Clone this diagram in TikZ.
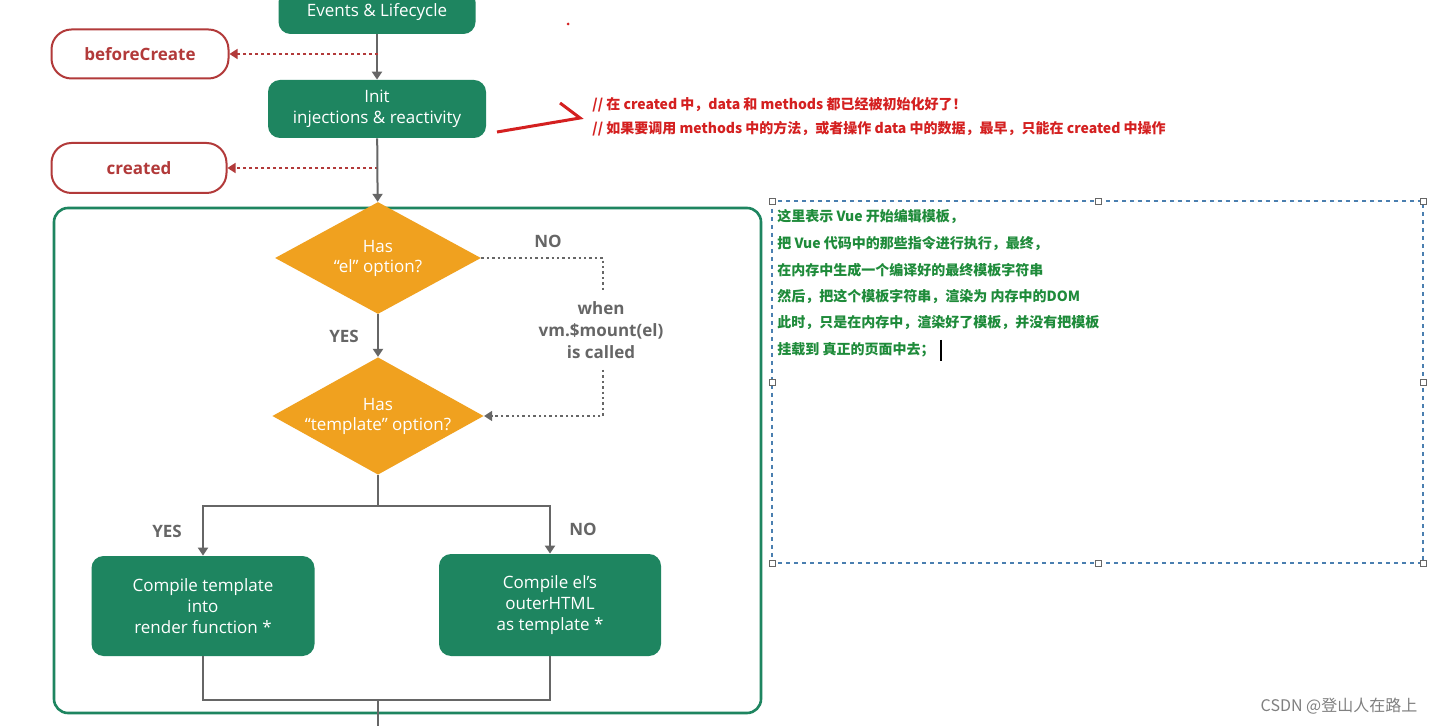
\documentclass[tikz,border=0pt]{standalone}
\usepackage{fontspec}
\setmainfont{Open Sans}
\newfontfamily\cjk{Noto Sans CJK SC}
\definecolor{vueGreen}{HTML}{1E8560}
\definecolor{vueOrange}{HTML}{F0A11F}
\definecolor{vueRed}{HTML}{B23A3A}
\definecolor{noteRed}{HTML}{D42020}
\definecolor{noteGreen}{HTML}{1E8B3A}
\definecolor{lineGray}{HTML}{666666}
\definecolor{selBlue}{HTML}{4A7FB0}
\usetikzlibrary{calc,positioning,arrows.meta,shapes.geometric}

\tikzset{
  lifestep/.style={fill=vueGreen, rounded corners=6pt, text=white, align=center, font=\fontsize{8.5}{10.5}\selectfont, inner sep=0pt},
  hook/.style={draw=vueRed, line width=1pt, rounded corners=10pt, text=vueRed, font=\fontsize{8.5}{10}\selectfont\bfseries, inner sep=0pt},
  choice/.style={diamond, fill=vueOrange, text=white, align=center, font=\fontsize{8.5}{10}\selectfont, inner sep=0pt, aspect=1.8},
  flow/.style={draw=lineGray, line width=1pt, -{Triangle[length=4pt,width=5pt]}},
  hookline/.style={draw=vueRed, line width=0.8pt, dash pattern=on 1.5pt off 1.5pt, -{Triangle[length=4pt,width=5pt]}},
  mountline/.style={draw=lineGray, line width=0.8pt, dash pattern=on 1.2pt off 1.5pt},
  tag/.style={text=lineGray, font=\fontsize{8.5}{10}\selectfont\bfseries},
  handle/.style={draw=lineGray, fill=white, minimum size=3pt, inner sep=0pt},
  note/.style={anchor=west, font=\cjk\fontsize{7}{8}\selectfont\bfseries, inner sep=0pt},
}

\begin{document}
\begin{tikzpicture}[x=0.5pt, y=-0.5pt]
  \useasboundingbox (0,0) rectangle (1450,726);
  \fill[white] (0,0) rectangle (1450,726);
  % hooks and init steps
  \node[lifestep, minimum width=98.5pt, minimum height=22pt] (events) at (377,12) {Events \& Lifecycle};
  \node[hook, minimum width=88.5pt, minimum height=24.5pt] (before) at (140,54) {beforeCreate};
  \node[lifestep, minimum width=109pt, minimum height=29pt] (init) at (377,109) {Init\\injections \& reactivity};
  \node[hook, minimum width=87.5pt, minimum height=25pt] (created) at (139,168) {created};
  \coordinate (beforeTap) at (378,54);
  \coordinate (createdTap) at (378,168);
  \draw[flow] (events) -- (init);
  \draw[hookline] (beforeTap) -- (before);
  \draw[hookline] (createdTap) -- (created);
  % compile block
  \draw[vueGreen, line width=1.3pt, rounded corners=7pt] (54,208) rectangle (761,713);
  \node[choice, minimum width=103pt, minimum height=56pt] (hasEl) at (378,258) {Has\\“el” option?};
  \node[choice, minimum width=104pt, minimum height=58pt] (hasTpl) at (378,416) {Has\\“template” option?};
  \draw[flow] (init) -- (hasEl);
  \draw[flow] (hasEl) -- (hasTpl);
  \node[tag] (yesEl) at (344,336) {YES};
  \node[tag] (noEl) at (548,241) {NO};
  \node[text=lineGray, align=center, font=\fontsize{8.5}{11}\selectfont\bfseries] (mount) at (601,330) {when\\vm.\$mount(el)\\is called};
  \coordinate (noCorner) at (603,258);
  \coordinate (mountTop) at (603,290);
  \coordinate (mountBot) at (603,370);
  \coordinate (backCorner) at (603,416);
  \draw[mountline] (hasEl.east) -- (noCorner) -- (mountTop);
  \draw[mountline, -{Triangle[length=4pt,width=5pt]}] (mountBot) -- (backCorner) -- (hasTpl.east);
  % the two ways to compile
  \node[lifestep, minimum width=111.5pt, minimum height=50pt] (compTpl) at (203,606) {Compile template\\into\\render function *};
  \node[lifestep, minimum width=111pt, minimum height=51pt] (compEl) at (550,605) {Compile el's\\outerHTML\\as template *};
  \coordinate (split) at (378,506);
  \coordinate (joinL) at (203,700);
  \coordinate (joinR) at (550,700);
  \coordinate (join) at (378,700);
  \coordinate (out) at (378,730);
  \draw[lineGray, line width=1pt] (hasTpl.south) -- (split);
  \draw[flow] (split) -| (compTpl);
  \draw[flow] (split) -| (compEl);
  \draw[lineGray, line width=1pt] (compTpl) -- (joinL) -- (joinR) -- (compEl);
  \draw[lineGray, line width=1pt] (join) -- (out);
  \node[tag] (yesTpl) at (167,531) {YES};
  \node[tag] (noTpl) at (583,529) {NO};
  % red note
  \node[note, text=noteRed] (noteA) at (592,105) {//\ 在 created 中，data 和 methods 都已经被初始化好了！};
  \node[note, text=noteRed] (noteB) at (592,129) {// 如果要调用 methods 中的方法，或者操作 data 中的数据，最早，只能在 created 中操作};
  \coordinate (tickA) at (560,103);
  \coordinate (tickB) at (580,118);
  \coordinate (tickC) at (497,132);
  \draw[noteRed, line width=1.5pt] (tickA) -- (tickB) -- (tickC);
  \fill[noteRed] (568,24) circle (1.5);
  % selected text box
  \draw[selBlue, line width=0.6pt, dash pattern=on 2pt off 2pt] (772,201) rectangle (1423,563);
  \foreach \hx/\hy in {772/201,1098/201,1423/201,772/382,1423/382,772/563,1098/563,1423/563}
    \node[handle] at (\hx,\hy) {};
  \foreach \ty/\txt in {217/这里表示 Vue 开始编辑模板，,244/把 Vue 代码中的那些指令进行执行，最终，,270/在内存中生成一个编译好的最终模板字符串,297/然后，把这个模板字符串，渲染为 内存中的DOM,323/此时，只是在内存中，渲染好了模板，并没有把模板,350/挂载到 真正的页面中去；}
    \node[note, text=noteGreen] at (777,\ty) {\txt};
  \draw[black, line width=0.8pt] (941,340) -- (941,361);
  % watermark
  \node[text=gray, font=\cjk\fontsize{8}{10}\selectfont] (mark) at (1339,706) {CSDN @登山人在路上};
\end{tikzpicture}
\end{document}
